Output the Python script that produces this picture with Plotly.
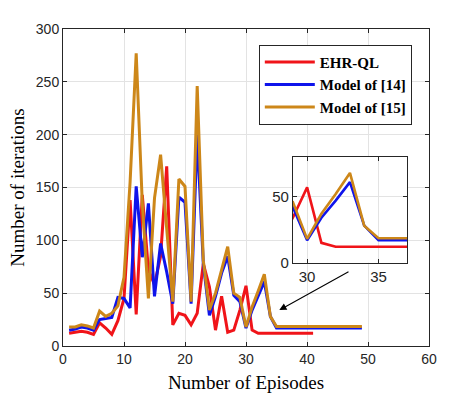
import plotly.graph_objects as go

episodes_red = list(range(1, 42))
episodes_models = list(range(1, 50))

ehr_ql = [12, 13, 14, 13, 11, 22, 17, 11, 24, 45,
          138, 30, 143, 72, 58, 85, 170, 20, 31, 29,
          20, 31, 78, 56, 15, 47, 13, 15, 34, 57,
          15, 12, 12, 12, 12, 12, 12, 12, 12, 12, 12]

model_14 = [15, 16, 18, 17, 15, 25, 26, 27, 46, 45,
            36, 151, 84, 135, 47, 97, 70, 40, 141, 136,
            40, 200, 78, 29, 47, 69, 85, 48, 42, 17,
            34, 47, 61, 28, 17, 17, 17, 17, 17, 17,
            17, 17, 17, 17, 17, 17, 17, 17, 17]

model_15 = [18, 18, 20, 19, 17, 33, 28, 31, 38, 65,
            155, 277, 135, 45, 140, 181, 111, 42, 158, 151,
            42, 246, 81, 34, 50, 72, 94, 50, 46, 18,
            37, 52, 68, 28, 18.5, 18.5, 18.5, 18.5, 18.5, 18.5,
            18.5, 18.5, 18.5, 18.5, 18.5, 18.5, 18.5, 18.5, 18.5]

names = ["EHR-QL", "Model of [14]", "Model of [15]"]
colors = ["rgb(240,20,25)", "rgb(15,20,235)", "rgb(205,135,25)"]

x_ticks = [0, 10, 20, 30, 40, 50, 60]
y_ticks = [0, 50, 100, 150, 200, 250, 300]
inset_x_ticks = [30, 35]
inset_y_ticks = [0, 50]

series = [(episodes_red, ehr_ql), (episodes_models, model_14), (episodes_models, model_15)]

fig = go.Figure()
for (xs, ys), name, col in zip(series, names, colors):
    fig.add_trace(go.Scatter(x=xs, y=ys, mode="lines", name=name,
                             line=dict(color=col, width=3), xaxis="x", yaxis="y"))
for (xs, ys), name, col in zip(series, names, colors):
    fig.add_trace(go.Scatter(x=xs, y=ys, mode="lines", name=name, showlegend=False,
                             line=dict(color=col, width=2.6), xaxis="x2", yaxis="y2"))

tick_font = dict(family="Liberation Sans, Arial", size=14, color="#262626")
axis_common = dict(showgrid=True, gridcolor="#e3e3e3", gridwidth=1, zeroline=False,
                   showline=True, linecolor="#262626", linewidth=1, mirror="ticks",
                   ticks="inside", ticklen=4, tickcolor="#262626", tickfont=tick_font)

fig.update_layout(
    width=474, height=400,
    margin=dict(l=63, r=45, t=29, b=54),
    paper_bgcolor="white", plot_bgcolor="white",
    xaxis=dict(range=[0, 60], tickvals=x_ticks, domain=[0, 1],
               title=dict(text="Number of Episodes", standoff=9,
                          font=dict(family="Liberation Serif, Times New Roman", size=19, color="black")),
               **axis_common),
    yaxis=dict(range=[0, 300], tickvals=y_ticks, domain=[0, 1],
               title=dict(text="Number of iterations", standoff=6,
                          font=dict(family="Liberation Serif, Times New Roman", size=19, color="black")),
               **axis_common),
    xaxis2=dict(range=[29, 37], tickvals=inset_x_ticks, domain=[0.628, 0.94], anchor="y2",
                **{**axis_common, "tickfont": dict(family="Liberation Sans, Arial", size=15, color="#262626")}),
    yaxis2=dict(range=[0, 80], tickvals=inset_y_ticks, domain=[0.263, 0.596], anchor="x2",
                **{**axis_common, "tickfont": dict(family="Liberation Sans, Arial", size=15, color="#262626")}),
    legend=dict(x=0.535, y=0.95, xanchor="left", yanchor="top",
                bgcolor="white", bordercolor="#262626", borderwidth=1,
                font=dict(family="Liberation Serif, Times New Roman", size=15, color="black", weight="bold"),
                itemwidth=50, tracegroupgap=0),
    showlegend=True,
)

fig.add_annotation(x=35.46, y=34, ax=47.05, ay=71, xref="x", yref="y", axref="x", ayref="y",
                   text="", showarrow=True, arrowhead=2, arrowsize=1.3, arrowwidth=1.1,
                   arrowcolor="black")

fig.write_html("out.html")
